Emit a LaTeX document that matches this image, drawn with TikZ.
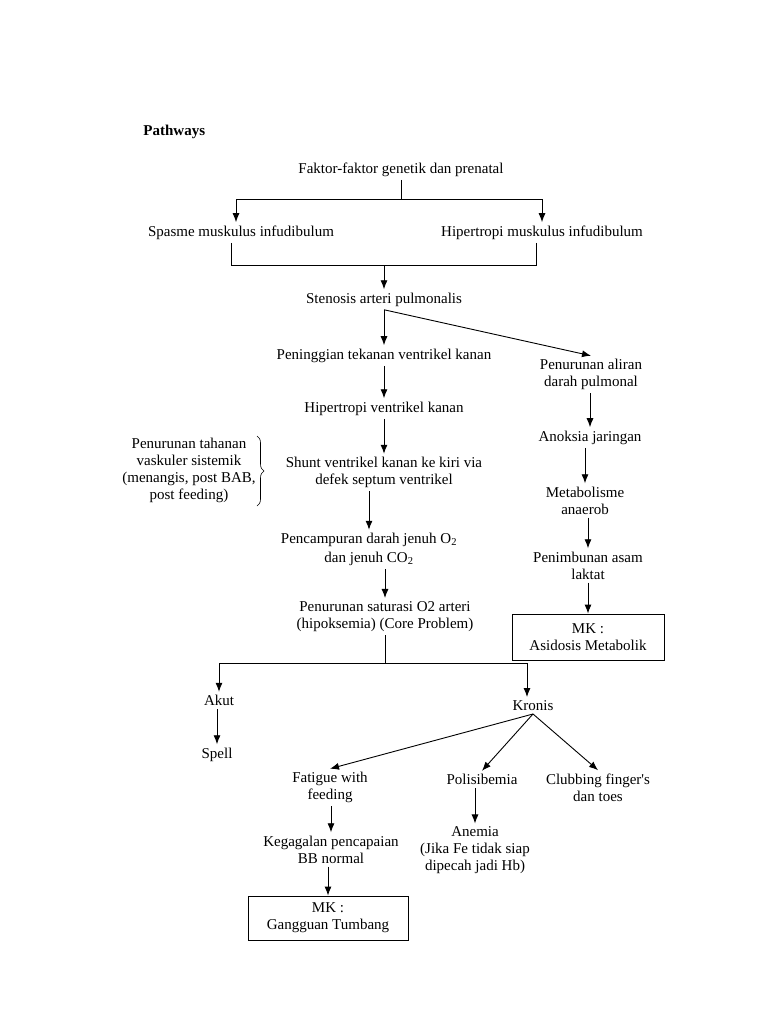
\documentclass[tikz,border=0pt]{standalone}
\usepackage{fontspec}
\setmainfont{Liberation Serif}[Ligatures=TeXOff]
\usetikzlibrary{positioning}
\usetikzlibrary{arrows.meta}
\usetikzlibrary{decorations.pathreplacing}

\begin{document}
\begin{tikzpicture}[x=1pt, y=-1pt, >={Latex[length=9pt,width=7pt]}, line width=0.9pt,
  every node/.style={font=\fontsize{15}{17}\selectfont, align=center, inner sep=3pt, yshift=-1.5pt},
  mkbox/.style={draw, minimum width=152pt, minimum height=46pt}]
  \useasboundingbox[fill=white] (0,0) rectangle (768,1024);

  % Title
  \node[anchor=west, font=\fontsize{15}{17}\selectfont\bfseries] (title) at (140,130) {Pathways};

  % Causes
  \node (faktor) at (401,168) {Faktor-faktor genetik dan prenatal};
  \node (spasme) at (241,231) {Spasme muskulus infudibulum};
  \node (hiperinf) at (542,231) {Hipertropi muskulus infudibulum};
  \node (stenosis) at (384,298) {Stenosis arteri pulmonalis};

  % Main column
  \node (peninggian) at (384,354) {Peninggian tekanan ventrikel kanan};
  \node (hiperven) at (384,407) {Hipertropi ventrikel kanan};
  \node (shunt) at (384,471) {Shunt ventrikel kanan ke kiri via\\defek septum ventrikel};
  \node (campur) at (369,548) {Pencampuran darah jenuh O\textsubscript{2}\\[2pt]dan jenuh CO\textsubscript{2}};
  \node (saturasi) at (385,615) {Penurunan saturasi O2 arteri\\(hipoksemia) (Core Problem)};
  \node (tahanan) at (189,469) {Penurunan tahanan\\vaskuler sistemik\\(menangis, post BAB,\\post feeding)};
  \draw[line width=0.6pt, decorate, decoration={brace, amplitude=7pt}] (257,436) -- (257,506);

  % Right column
  \node (aliran) at (591,373) {Penurunan aliran\\darah pulmonal};
  \node (anoksia) at (590,436) {Anoksia jaringan};
  \node (metab) at (585,499) {Metabolisme\\anaerob};
  \node (timbun) at (588,564) {Penimbunan asam\\laktat};
  \node[mkbox, yshift=1.5pt] (asidosis) at (588,637) {MK :\\Asidosis Metabolik};

  % Lower part
  \node (akut) at (219,699) {Akut};
  \node (spell) at (217,753) {Spell};
  \node (kronis) at (533,704) {Kronis};
  \node (fatigue) at (330,786) {Fatigue with\\feeding};
  \node (polis) at (482,778) {Polisibemia};
  \node (clubbing) at (598,786) {Clubbing finger's\\dan toes};
  \node (gagal) at (331,848) {Kegagalan pencapaian\\BB normal};
  \node[mkbox, minimum width=160pt, minimum height=44pt, yshift=1.5pt] (tumbang) at (328,918) {MK :\\Gangguan Tumbang};
  \node (anemia) at (475,849) {Anemia\\(Jika Fe tidak siap\\dipecah jadi Hb)};

  % Branches
  \coordinate (j1) at (401,198);
  \draw (faktor) -- (j1);
  \draw[->] (j1) -| ([xshift=-5pt]spasme.north);
  \draw[->] (j1) -| (hiperinf.north);
  \coordinate (j2) at (384,264);
  \draw ([xshift=-10pt]spasme.south) |- (j2);
  \draw ([xshift=-6pt]hiperinf.south) |- (j2);
  \draw[->] (j2) -- (stenosis);
  \draw[->] (stenosis.south) -- (aliran.north);
  \coordinate (j3) at (385,662);
  \draw (saturasi) -- (j3);
  \draw[->] (j3) -| (akut.north);
  \draw[->] (j3) -| ([xshift=-6pt]kronis.north);
  \foreach \t in {fatigue, polis, clubbing}
    \draw[->] (kronis.south) -- (\t.north);

  % Straight arrows
  \foreach \a/\b in {stenosis/peninggian, peninggian/hiperven, hiperven/shunt, shunt/campur,
                     campur/saturasi, aliran/anoksia, anoksia/metab, metab/timbun, timbun/asidosis,
                     akut/spell, fatigue/gagal, gagal/tumbang, polis/anemia}
    \draw[->] (\a.south -| \b.north) -- (\b.north);
\end{tikzpicture}
\end{document}
